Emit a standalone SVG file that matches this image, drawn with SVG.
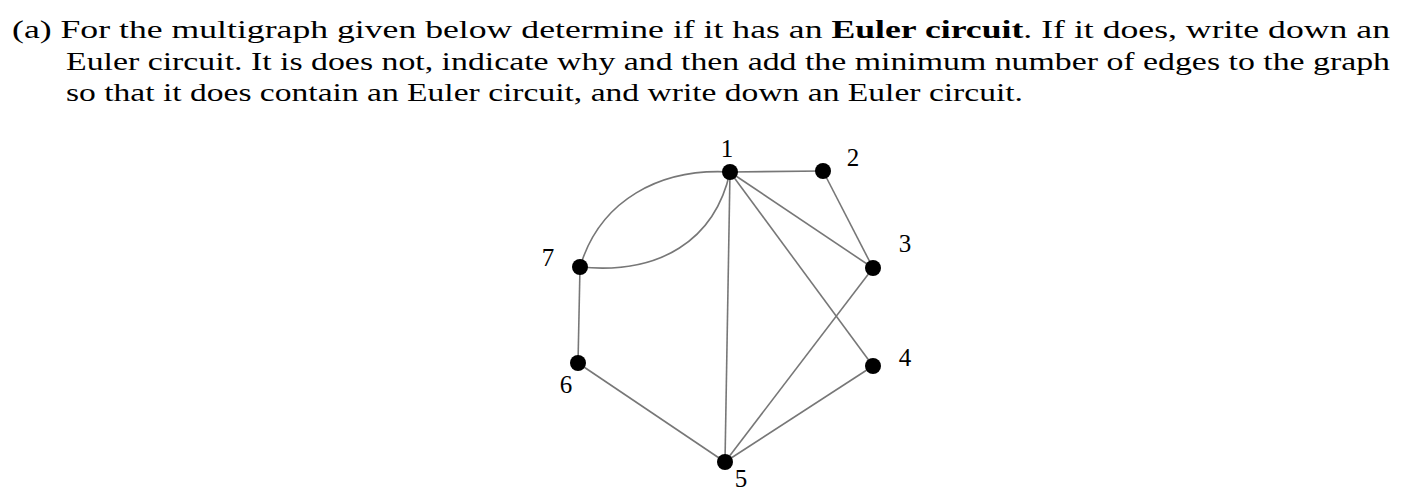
<svg xmlns="http://www.w3.org/2000/svg" width="1404" height="502" viewBox="0 0 1404 502">
<style>
.t{font-family:"Liberation Serif",serif;font-size:26px;fill:#000}
.l{font-family:"Liberation Serif",serif;font-size:25px;fill:#000}
.e{stroke:#777;stroke-width:1.6;fill:none}
.n{fill:#000}
</style>
<rect width="1404" height="502" fill="#fff"/>
<text class="t" x="12" y="38" textLength="1378" lengthAdjust="spacingAndGlyphs">(a) For the multigraph given below determine if it has an <tspan font-weight="bold">Euler circuit</tspan>. If it does, write down an</text>
<text class="t" x="66" y="70" textLength="1324" lengthAdjust="spacingAndGlyphs">Euler circuit. It is does not, indicate why and then add the minimum number of edges to the graph</text>
<text class="t" x="66" y="101" textLength="957" lengthAdjust="spacingAndGlyphs">so that it does contain an Euler circuit, and write down an Euler circuit.</text>
<g id="edges">
<line class="e" x1="730" y1="172" x2="823" y2="171"/>
<line class="e" x1="823" y1="171" x2="873" y2="268"/>
<line class="e" x1="730" y1="172" x2="873" y2="268"/>
<line class="e" x1="730" y1="172" x2="873" y2="366"/>
<line class="e" x1="730" y1="172" x2="725" y2="462"/>
<line class="e" x1="873" y1="268" x2="725" y2="462"/>
<line class="e" x1="873" y1="366" x2="725" y2="462"/>
<line class="e" x1="725" y1="462" x2="578" y2="363"/>
<line class="e" x1="578" y1="363" x2="580" y2="267"/>
<path class="e" d="M580 267 C600 200 660 168 730 172"/>
<path class="e" d="M580 267 C660 275 715 240 730 172"/>
</g>
<g id="n1"><circle class="n" cx="730" cy="172" r="8"/><text class="l" x="727" y="157" text-anchor="middle">1</text></g>
<g id="n2"><circle class="n" cx="823" cy="171" r="8"/><text class="l" x="853" y="166" text-anchor="middle">2</text></g>
<g id="n3"><circle class="n" cx="873" cy="268" r="8"/><text class="l" x="905" y="252" text-anchor="middle">3</text></g>
<g id="n4"><circle class="n" cx="873" cy="366" r="8"/><text class="l" x="905" y="366" text-anchor="middle">4</text></g>
<g id="n5"><circle class="n" cx="725" cy="462" r="8"/><text class="l" x="741" y="487" text-anchor="middle">5</text></g>
<g id="n6"><circle class="n" cx="578" cy="363" r="8"/><text class="l" x="566" y="393" text-anchor="middle">6</text></g>
<g id="n7"><circle class="n" cx="580" cy="267" r="8"/><text class="l" x="548" y="266" text-anchor="middle">7</text></g>
</svg>
